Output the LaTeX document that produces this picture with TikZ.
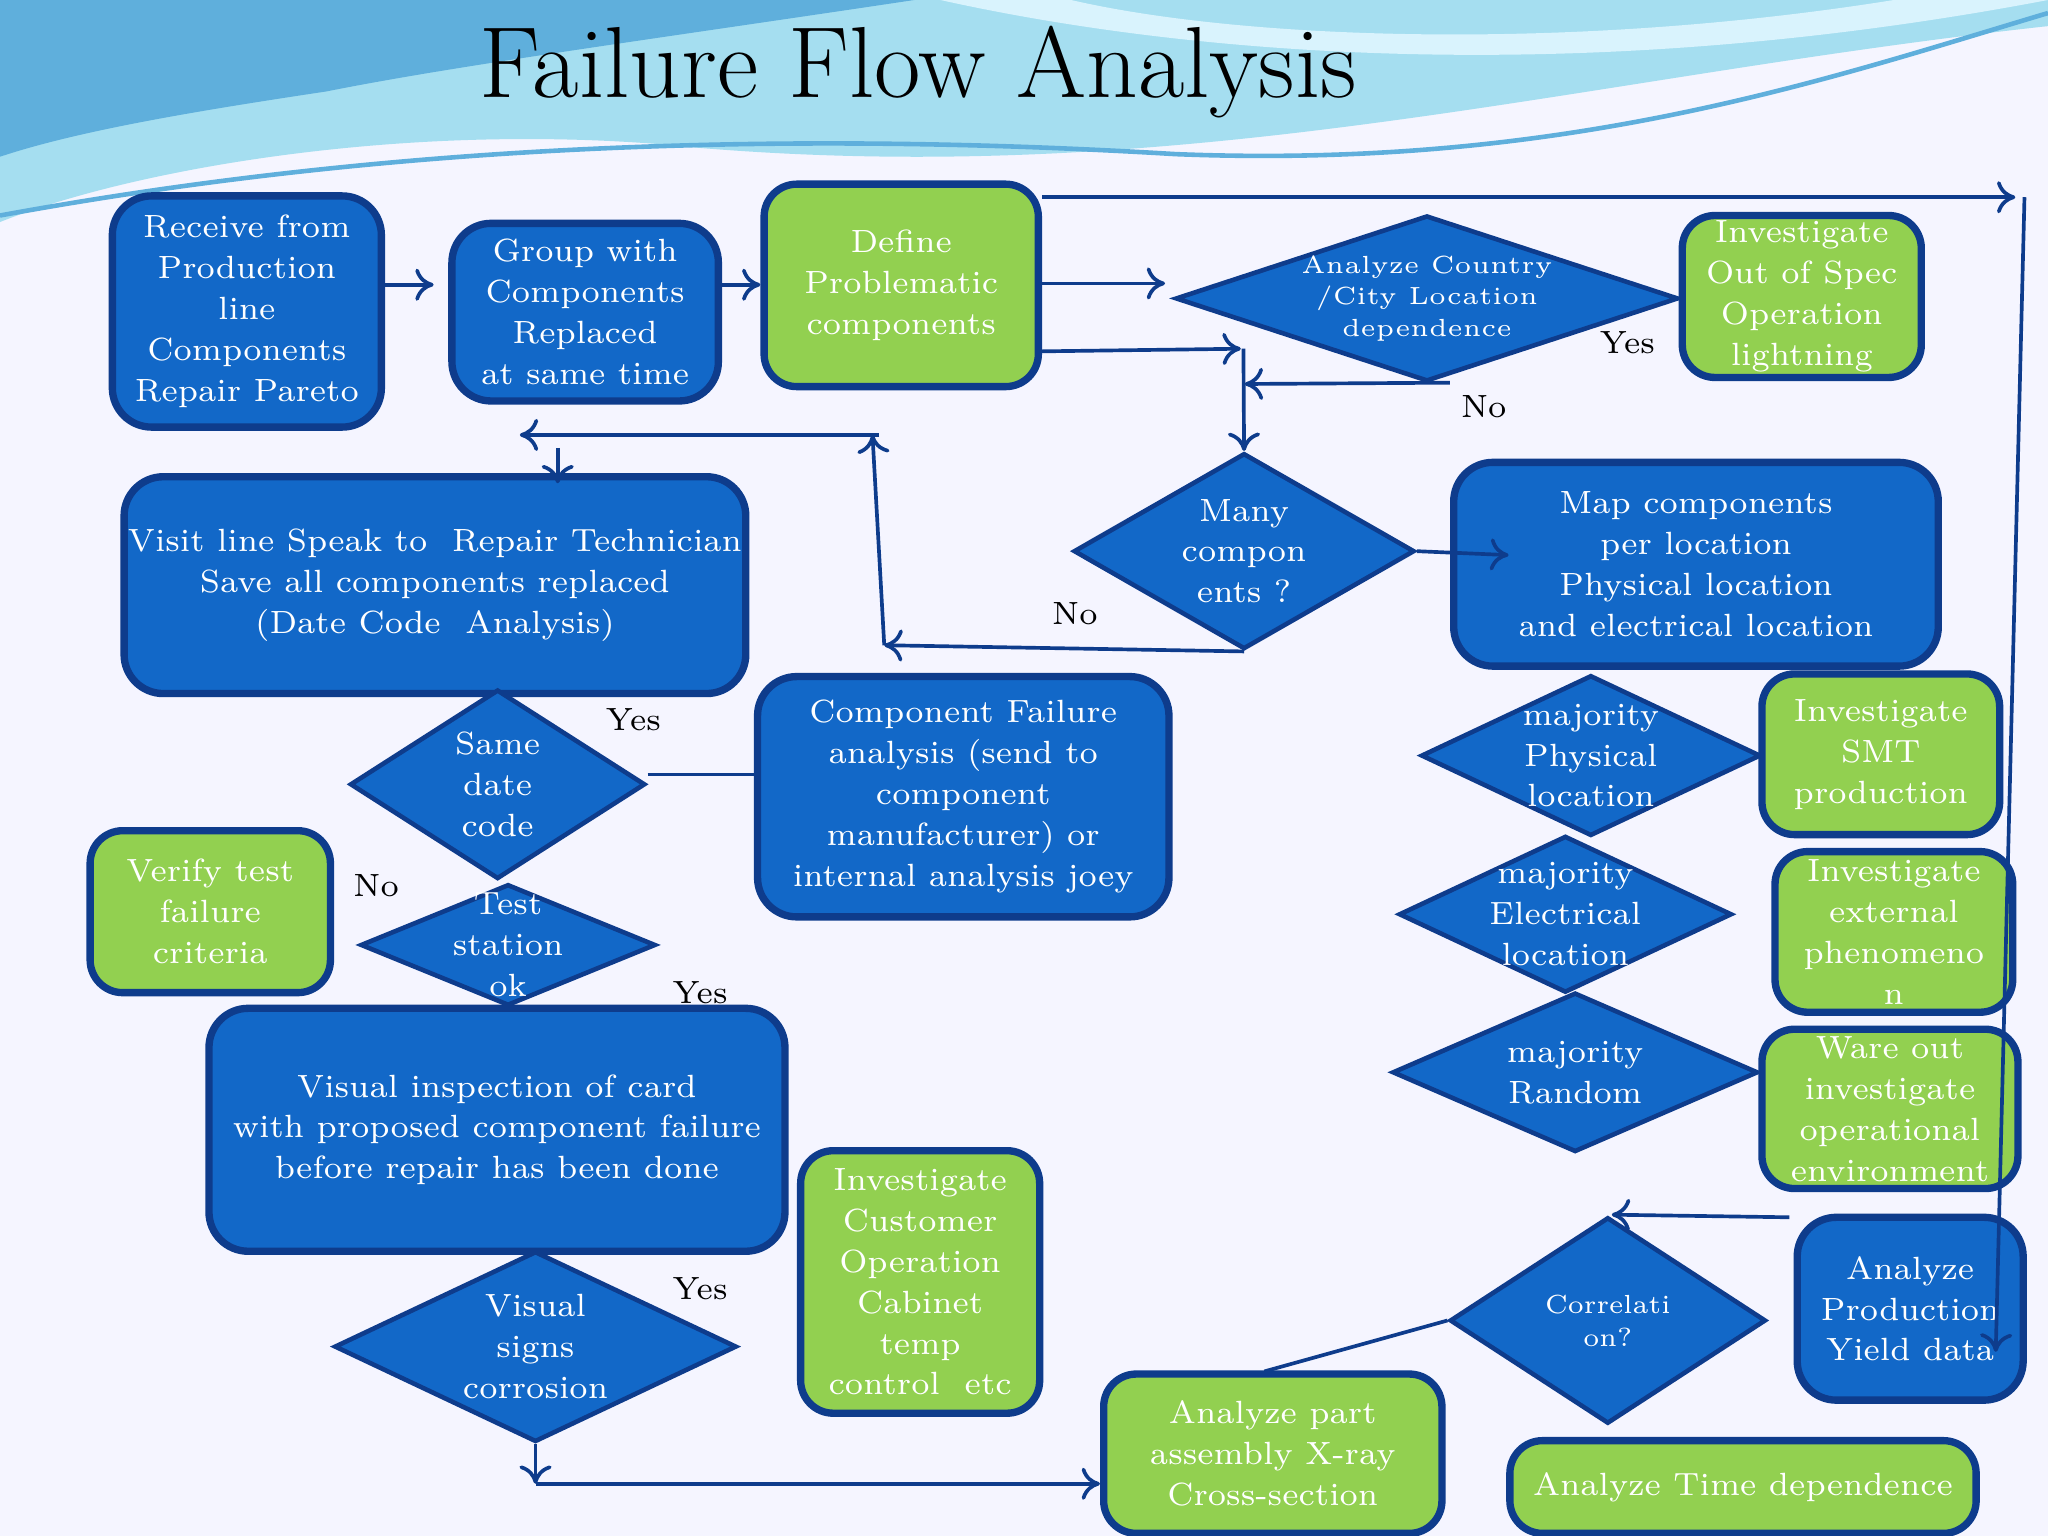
\documentclass[tikz,border=0pt]{standalone}
\usetikzlibrary{shapes.geometric,arrows.meta}
\definecolor{bfill}{RGB}{18,104,200}
\definecolor{bline}{RGB}{14,60,140}
\definecolor{gfill}{RGB}{146,208,80}
\definecolor{wave1}{RGB}{165,222,240}
\definecolor{wave2}{RGB}{95,175,220}
\newcommand\RB[7]{\node[#1,minimum width={(#4-#2)*0.01cm},minimum height={(#5-#3)*0.01cm}] (#6) at ({(#2+#4)/2},{(#3+#5)/2}) {#7};}
\newcommand\DI[7]{\node[dia,minimum width={(#4-#2)*0.01cm},minimum height={(#5-#3)*0.01cm}] (#6) at ({(#2+#4)/2},{(#3+#5)/2}) {};
  \node[dtext,#1] (#6t) at (#6.center) {#7};}
\begin{document}
\begin{tikzpicture}[x=0.01cm,y=-0.01cm,
  base/.style={draw=bline,line width=1.6pt,text=white,align=center,inner sep=0pt,
    font=\fontsize{7}{8.9}\selectfont},
  bbox/.style={base,fill=bfill,rounded corners=0.3cm},
  gbox/.style={base,fill=gfill,rounded corners=0.25cm},
  dia/.style={draw=bline,fill=bfill,diamond,line width=1pt,inner sep=0pt},
  dtext/.style={text=white,align=center,inner sep=0pt,font=\fontsize{7}{8.9}\selectfont},
  con/.style={draw=bline,line width=0.8pt},
  arr/.style={con,-{To[length=4pt,width=7pt]}},
  lab/.style={font=\fontsize{7}{8.9}\selectfont,text=black}]
\useasboundingbox (0,0) rectangle (1568,1176);
\fill[white!96!blue] (0,0) rectangle (1568,1176);
\fill[wave1] (0,0) -- (1568,0) -- (1568,20) .. controls (1200,60) and (900,150) .. (500,110) .. controls (300,95) and (100,130) .. (0,170) -- cycle;
\fill[wave2] (0,0) -- (700,0) .. controls (500,30) and (350,50) .. (250,70) .. controls (150,85) and (60,100) .. (0,120) -- cycle;
\fill[white!85!cyan] (720,0) .. controls (900,40) and (1200,70) .. (1568,0) -- (1450,0) .. controls (1200,40) and (950,30) .. (820,0) -- cycle;
\draw[wave2,line width=1pt] (0,165) .. controls (300,110) and (600,100) .. (900,118) .. controls (1200,130) and (1400,60) .. (1568,10);
\node[font=\fontsize{22}{26}\selectfont,text=black] (title) at (703,55) {Failure Flow Analysis};

\RB{bbox}{86}{150}{292}{327}{recv}{Receive from\\Production\\line\\Components\\Repair Pareto}
\RB{bbox}{346}{171}{550}{307}{grp}{Group with\\Components\\Replaced\\at same time}
\RB{gbox}{585}{141}{795}{296}{def}{Define\\Problematic\\components}
\DI{font=\fontsize{5.4}{6.8}\selectfont}{900}{165}{1285}{292}{acl}{Analyze Country\\/City Location\\dependence}
\RB{gbox}{1288}{165}{1471}{289}{ios}{Investigate\\Out of Spec\\Operation\\lightning}
\DI{}{822}{347}{1083}{497}{many}{Many\\compon\\ents ?}
\RB{bbox}{1113}{354}{1484}{510}{map}{Map components\\per location\\Physical location\\and electrical location}
\RB{bbox}{95}{365}{571}{531}{visit}{Visit line Speak to \ Repair Technician\\Save all components replaced\\(Date Code \ Analysis)}
\DI{}{268}{528}{494}{673}{same}{Same\\date\\code}
\RB{bbox}{580}{518}{895}{702}{cfa}{Component Failure\\analysis (send to\\component\\manufacturer) or\\internal analysis joey}
\RB{gbox}{69}{636}{253}{760}{ver}{Verify test\\failure\\criteria}
\DI{}{276}{677}{502}{770}{test}{Test\\station\\ok}
\RB{bbox}{160}{772}{601}{958}{vis}{Visual inspection of card\\with proposed component failure\\before repair has been done}
\DI{}{256}{958}{564}{1104}{sign}{Visual\\signs\\corrosion}
\RB{gbox}{613}{881}{796}{1082}{icu}{Investigate\\Customer\\Operation\\Cabinet\\temp\\control \ etc}
\DI{}{1088}{517}{1348}{640}{mphy}{majority\\Physical\\location}
\RB{gbox}{1349}{516}{1531}{639}{smt}{Investigate\\SMT\\production}
\DI{}{1071}{640}{1326}{760}{mele}{majority\\Electrical\\location}
\RB{gbox}{1359}{652}{1541}{775}{ext}{Investigate\\external\\phenomeno\\n}
\DI{}{1066}{760}{1346}{882}{mran}{majority\\Random}
\RB{gbox}{1349}{788}{1545}{910}{ware}{Ware out\\investigate\\operational\\environment}
\DI{font=\fontsize{5.7}{7.2}\selectfont}{1110}{932}{1352}{1090}{corr}{Correlati\\on?}
\RB{bbox}{1376}{932}{1549}{1072}{apy}{Analyze\\Production\\Yield data}
\RB{gbox}{845}{1052}{1104}{1174}{apa}{Analyze part\\assembly X-ray\\Cross-section}
\RB{gbox}{1156}{1103}{1513}{1174}{atd}{Analyze Time dependence}

\coordinate (c1) at (950,267);
\coordinate (c2) at (1543,151);
\coordinate (c3) at (1550,151);
\coordinate (c4) at (1528,1035);
\coordinate (c5) at (953,294);
\coordinate (c6) at (677,494);
\coordinate (c7) at (668,333);
\coordinate (c8) at (398,333);
\coordinate (c9) at (427,343);
\coordinate (c10) at (410,1136);
\coordinate (c11) at (1370,932);
\coordinate (c12) at (1234,930);
\coordinate (c13) at (968,1050);

\draw[arr] (recv.east |- 0,218) -- (332,218);
\draw[arr] (grp.east |- 0,218) -- (def.west |- 0,218);
\draw[arr] (def.east |- 0,217) -- (892,217);
\draw[arr] (def.east |- 0,269) -- (c1);
\draw[arr] (def.east |- 0,151) -- (c2);
\draw[arr] (c3) -- (c4);
\draw[arr] (1110,293) -- (c5);
\draw[arr] (952,267) -- (many.north);
\draw[arr] (many.east) -- (1155,425);
\draw[arr] (many.south) -- (c6);
\draw[arr] (c6) -- (c7);
\draw[arr] (673,333) -- (c8);
\draw[arr] (c9) -- (427,370);
\draw[con] (same.east |- 0,593) -- (cfa.west |- 0,593);
\draw[arr] (sign.south) -- (c10);
\draw[arr] (c10) -- (apa.west |- c10);
\draw[arr] (c11) -- (c12);
\draw[con] (corr.west) -- (c13);

\node[lab] (y1) at (1246,262) {Yes};
\node[lab] (n1) at (1136,311) {No};
\node[lab] (n2) at (823,470) {No};
\node[lab] (y2) at (485,551) {Yes};
\node[lab] (n3) at (288,678) {No};
\node[lab] (y3) at (536,760) {Yes};
\node[lab] (y4) at (536,987) {Yes};
\end{tikzpicture}
\end{document}
